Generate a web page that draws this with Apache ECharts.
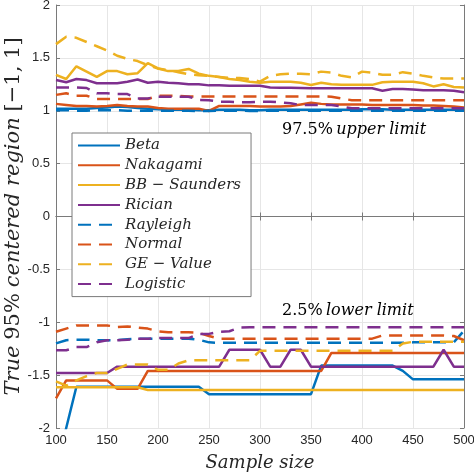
<!DOCTYPE html>
<html>
<head>
<meta charset="utf-8">
<script src="https://cdn.jsdelivr.net/npm/echarts@6/dist/echarts.min.js"></script>
<style>
  html, body { margin: 0; padding: 0; background: #fff; }
  #chart { width: 474px; height: 474px; }
</style>
</head>
<body>
<div id="chart"></div>
<script>
// sample sizes (x)
const sampleSize = [100, 110, 120, 130, 140, 150, 160, 170, 180, 190, 200, 210, 220, 230, 240, 250, 260, 270, 280, 290,
  300, 310, 320, 330, 340, 350, 360, 370, 380, 390, 400, 410, 420, 430, 440, 450, 460, 470, 480, 490, 500];

const yTicks = [-2, -1.5, -1, -0.5, 0, 0.5, 1, 1.5, 2];
const xTicks = [100, 150, 200, 250, 300, 350, 400, 450, 500];

// 97.5% upper limits
const betaUpper = [1.02, 1.02, 1.02, 1.02, 1.025, 1.03, 1.04, 1.035, 1.025, 1.02, 1.015, 1.01, 1.01, 1.01, 1.005, 1.005, 1.01, 1.01, 1.01, 1.005,
  1.005, 1.01, 1.01, 1.01, 1.01, 1.01, 1.01, 1.01, 1.01, 1.01, 1.015, 1.015, 1.015, 1.01, 1.01, 1.01, 1.01, 1.01, 1.01, 1.01, 1.01];
const nakagamiUpper = [1.065, 1.055, 1.045, 1.045, 1.04, 1.045, 1.055, 1.045, 1.04, 1.04, 1.025, 1.02, 1.02, 1.02, 1.02, 0.998, 1.045, 1.045, 1.045, 1.045,
  1.04, 1.04, 1.04, 1.045, 1.06, 1.075, 1.065, 1.06, 1.06, 1.06, 1.06, 1.055, 1.055, 1.055, 1.055, 1.055, 1.05, 1.05, 1.045, 1.04, 1.03];
const bbUpper = [1.34, 1.30, 1.42, 1.37, 1.32, 1.375, 1.375, 1.345, 1.355, 1.45, 1.40, 1.375, 1.375, 1.395, 1.35, 1.33, 1.32, 1.30, 1.29, 1.275,
  1.265, 1.275, 1.275, 1.275, 1.265, 1.243, 1.265, 1.25, 1.245, 1.245, 1.245, 1.245, 1.27, 1.275, 1.275, 1.275, 1.26, 1.23, 1.25, 1.225, 1.22];
const ricianUpper = [1.29, 1.27, 1.30, 1.29, 1.26, 1.26, 1.26, 1.275, 1.295, 1.265, 1.275, 1.265, 1.26, 1.25, 1.25, 1.24, 1.24, 1.237, 1.237, 1.237,
  1.237, 1.22, 1.218, 1.218, 1.215, 1.212, 1.212, 1.212, 1.212, 1.212, 1.212, 1.212, 1.19, 1.205, 1.205, 1.2, 1.195, 1.195, 1.195, 1.19, 1.175];
const rayleighUpper = [1.005, 1.005, 1.0, 1.0, 1.005, 1.005, 1.005, 1.0, 1.0, 1.0, 1.0, 1.0, 1.0, 1.0, 0.998, 0.998, 1.0, 1.0, 1.0, 0.998,
  0.998, 1.0, 1.0, 1.0, 1.0, 1.0, 1.0, 1.0, 1.0, 1.0, 1.0, 1.0, 1.0, 1.0, 1.0, 1.0, 1.0, 1.0, 1.0, 1.0, 1.0];
const normalUpper = [1.15, 1.165, 1.142, 1.142, 1.11, 1.11, 1.11, 1.11, 1.11, 1.11, 1.142, 1.142, 1.14, 1.135, 1.135, 1.135, 1.135, 1.135, 1.135, 1.135,
  1.135, 1.135, 1.135, 1.135, 1.135, 1.135, 1.135, 1.133, 1.115, 1.10, 1.10, 1.10, 1.10, 1.10, 1.10, 1.10, 1.10, 1.10, 1.10, 1.10, 1.10];
const geUpper = [1.63, 1.70, 1.69, 1.65, 1.61, 1.57, 1.52, 1.49, 1.47, 1.43, 1.40, 1.385, 1.365, 1.345, 1.335, 1.33, 1.32, 1.31, 1.31, 1.30,
  1.275, 1.33, 1.345, 1.35, 1.35, 1.345, 1.37, 1.36, 1.33, 1.315, 1.37, 1.36, 1.34, 1.34, 1.365, 1.35, 1.33, 1.315, 1.305, 1.305, 1.305];
const logisticUpper = [1.22, 1.22, 1.22, 1.215, 1.165, 1.165, 1.158, 1.158, 1.117, 1.117, 1.133, 1.133, 1.133, 1.133, 1.102, 1.10, 1.086, 1.086, 1.08, 1.08,
  1.086, 1.086, 1.08, 1.07, 1.054, 1.054, 1.054, 1.054, 1.04, 1.023, 1.023, 1.023, 1.023, 1.023, 1.023, 1.023, 1.023, 1.023, 1.023, 1.023, 1.023];

// 2.5% lower limits
const betaLower = [-2.4, -2.0, -1.61, -1.61, -1.61, -1.61, -1.61, -1.61, -1.61, -1.61, -1.61, -1.61, -1.61, -1.61, -1.61, -1.68, -1.68, -1.68, -1.68, -1.68,
  -1.68, -1.68, -1.68, -1.68, -1.68, -1.68, -1.41, -1.41, -1.41, -1.41, -1.41, -1.41, -1.41, -1.41, -1.46, -1.54, -1.54, -1.54, -1.54, -1.54, -1.54];
const nakagamiLower = [-1.72, -1.55, -1.55, -1.55, -1.55, -1.55, -1.63, -1.63, -1.63, -1.46, -1.46, -1.46, -1.46, -1.46, -1.46, -1.46, -1.46, -1.46, -1.46, -1.46,
  -1.46, -1.46, -1.46, -1.46, -1.46, -1.46, -1.46, -1.29, -1.29, -1.29, -1.29, -1.29, -1.29, -1.29, -1.29, -1.29, -1.29, -1.29, -1.29, -1.29, -1.29];
const bbLower = [-1.615, -1.615, -1.615, -1.615, -1.615, -1.615, -1.615, -1.615, -1.615, -1.64, -1.64, -1.64, -1.64, -1.64, -1.64, -1.64, -1.64, -1.64, -1.64, -1.64,
  -1.64, -1.64, -1.64, -1.64, -1.64, -1.64, -1.64, -1.64, -1.64, -1.64, -1.64, -1.64, -1.64, -1.64, -1.64, -1.64, -1.64, -1.64, -1.64, -1.64, -1.64];
const ricianLower = [-1.48, -1.48, -1.48, -1.48, -1.48, -1.48, -1.42, -1.42, -1.42, -1.42, -1.42, -1.42, -1.42, -1.42, -1.42, -1.42, -1.42, -1.26, -1.26, -1.26,
  -1.26, -1.42, -1.42, -1.26, -1.26, -1.42, -1.42, -1.42, -1.42, -1.42, -1.42, -1.42, -1.42, -1.42, -1.42, -1.42, -1.42, -1.42, -1.26, -1.42, -1.42];
const rayleighLower = [-1.20, -1.17, -1.165, -1.165, -1.17, -1.17, -1.17, -1.16, -1.155, -1.155, -1.155, -1.155, -1.155, -1.155, -1.165, -1.19, -1.195, -1.195, -1.195, -1.195,
  -1.195, -1.195, -1.195, -1.195, -1.195, -1.195, -1.195, -1.195, -1.195, -1.195, -1.195, -1.195, -1.195, -1.195, -1.195, -1.19, -1.19, -1.19, -1.19, -1.19, -1.08];
const normalLower = [-1.09, -1.06, -1.03, -1.03, -1.03, -1.03, -1.045, -1.04, -1.05, -1.06, -1.085, -1.095, -1.095, -1.095, -1.10, -1.13, -1.155, -1.155, -1.155, -1.155,
  -1.155, -1.155, -1.155, -1.155, -1.155, -1.155, -1.155, -1.155, -1.155, -1.155, -1.155, -1.155, -1.125, -1.125, -1.125, -1.125, -1.125, -1.125, -1.125, -1.13, -1.17];
const geLower = [-1.56, -1.60, -1.55, -1.51, -1.48, -1.48, -1.44, -1.40, -1.40, -1.40, -1.45, -1.45, -1.39, -1.36, -1.36, -1.36, -1.36, -1.36, -1.36, -1.36,
  -1.27, -1.27, -1.27, -1.27, -1.27, -1.27, -1.27, -1.27, -1.27, -1.27, -1.27, -1.27, -1.27, -1.27, -1.20, -1.185, -1.185, -1.185, -1.185, -1.185, -1.185];
const logisticLower = [-1.265, -1.265, -1.235, -1.235, -1.19, -1.17, -1.17, -1.165, -1.155, -1.155, -1.15, -1.15, -1.15, -1.15, -1.11, -1.11, -1.09, -1.085, -1.05, -1.048,
  -1.048, -1.048, -1.048, -1.048, -1.048, -1.048, -1.048, -1.048, -1.048, -1.048, -1.048, -1.048, -1.048, -1.048, -1.048, -1.048, -1.048, -1.048, -1.048, -1.048, -1.048];

const DISTS = [
  { name: 'Beta', color: '#0072BD', dashed: false, upper: betaUpper, lower: betaLower },
  { name: 'Nakagami', color: '#D95319', dashed: false, upper: nakagamiUpper, lower: nakagamiLower },
  { name: 'BB \u2212 Saunders', color: '#EDB120', dashed: false, upper: bbUpper, lower: bbLower },
  { name: 'Rician', color: '#7E2F8E', dashed: false, upper: ricianUpper, lower: ricianLower },
  { name: 'Rayleigh', color: '#0072BD', dashed: true, upper: rayleighUpper, lower: rayleighLower },
  { name: 'Normal', color: '#D95319', dashed: true, upper: normalUpper, lower: normalLower },
  { name: 'GE \u2212 Value', color: '#EDB120', dashed: true, upper: geUpper, lower: geLower },
  { name: 'Logistic', color: '#7E2F8E', dashed: true, upper: logisticUpper, lower: logisticLower },
];

const AXIS_COLOR = '#7a7a7a';
const TEXT_COLOR = '#262626';
const SERIF = 'DejaVu Serif';

function lineSeries(d, values) {
  return {
    name: d.name,
    type: 'line',
    data: sampleSize.map((x, i) => [x, values[i]]),
    symbol: 'none',
    showSymbol: false,
    clip: true,
    silent: true,
    lineStyle: { color: d.color, width: 2.5, type: d.dashed ? [13, 8] : 'solid', cap: 'butt' },
    itemStyle: { color: d.color },
  };
}

const series = [];
DISTS.forEach((d) => {
  series.push(lineSeries(d, d.upper));
  series.push(lineSeries(d, d.lower));
});

const mathRich = {
  i: { fontFamily: SERIF, fontStyle: 'italic', fontSize: 16, color: TEXT_COLOR },
  n: { fontFamily: SERIF, fontSize: 16, color: TEXT_COLOR },
};

const chart = echarts.init(document.getElementById('chart'), null, { renderer: 'canvas' });

chart.setOption({
  animation: false,
  backgroundColor: '#fff',
  grid: { left: 56, right: 10, top: 5, bottom: 46, containLabel: false, outerBoundsMode: 'none' },
  legend: {
    data: DISTS.map((d) => d.name),
    orient: 'vertical',
    left: 72,
    top: 133,
    padding: [5, 10, 5, 5],
    itemWidth: 42,
    itemHeight: 14,
    itemGap: 4.8,
    backgroundColor: '#fff',
    borderColor: AXIS_COLOR,
    borderWidth: 1,
    borderRadius: 0,
    selectedMode: false,
    // hide the symbol that line series put in the middle of the legend line
    itemStyle: { color: 'rgba(0,0,0,0)', borderWidth: 0, opacity: 0 },
    textStyle: { fontFamily: SERIF, fontStyle: 'italic', fontSize: 15, color: TEXT_COLOR },
  },
  xAxis: [
    {
      type: 'value',
      min: 100,
      max: 500,
      interval: 50,
      name: 'Sample size',
      nameLocation: 'middle',
      nameGap: 26,
      nameMoveOverlap: false,
      nameTextStyle: { fontFamily: SERIF, fontStyle: 'italic', fontSize: 18, color: TEXT_COLOR },
      axisLine: { show: true, lineStyle: { color: AXIS_COLOR, width: 1 } },
      axisTick: { show: true, inside: true, length: 4, lineStyle: { color: AXIS_COLOR } },
      axisLabel: { color: TEXT_COLOR, fontFamily: 'Liberation Sans', fontSize: 13, margin: 6,
        formatter: (v) => (xTicks.includes(v) ? String(v) : '') },
      splitLine: { show: true, lineStyle: { color: '#e6e6e6', width: 1 } },
    },
    {
      type: 'value',
      position: 'top',
      min: 100,
      max: 500,
      interval: 50,
      axisLine: { show: true, lineStyle: { color: AXIS_COLOR, width: 1 } },
      axisTick: { show: true, inside: true, length: 4, lineStyle: { color: AXIS_COLOR } },
      axisLabel: { show: false },
      splitLine: { show: false },
    },
  ],
  yAxis: [
    {
      type: 'value',
      min: -2,
      max: 2,
      interval: 0.5,
      name: '{i|True} {n|95%} {i|centered region} {n|[\u22121, 1]}',
      nameLocation: 'middle',
      nameRotate: 90,
      nameGap: 32,
      nameMoveOverlap: false,
      nameTextStyle: { fontSize: 21, rich: {
        i: { fontFamily: SERIF, fontStyle: 'italic', fontSize: 21, color: TEXT_COLOR },
        n: { fontFamily: SERIF, fontSize: 21, color: TEXT_COLOR },
      } },
      axisLine: { show: true, lineStyle: { color: AXIS_COLOR, width: 1 } },
      axisTick: { show: true, inside: true, length: 4, lineStyle: { color: AXIS_COLOR } },
      axisLabel: { color: TEXT_COLOR, fontFamily: 'Liberation Sans', fontSize: 13, margin: 6,
        formatter: (v) => (yTicks.includes(v) ? String(v) : '') },
      splitLine: { show: true, lineStyle: { color: '#e6e6e6', width: 1 } },
    },
    {
      type: 'value',
      position: 'right',
      min: -2,
      max: 2,
      interval: 0.5,
      axisLine: { show: true, lineStyle: { color: AXIS_COLOR, width: 1 } },
      axisTick: { show: true, inside: true, length: 4, lineStyle: { color: AXIS_COLOR } },
      axisLabel: { show: false },
      splitLine: { show: false },
    },
  ],
  graphic: [
    {
      type: 'text',
      left: 282,
      top: 122,
      z: 100,
      style: { text: '{n|97.5%} {i|upper limit}', rich: mathRich },
    },
    {
      type: 'text',
      left: 282,
      top: 303,
      z: 100,
      style: { text: '{n|2.5%} {i|lower limit}', rich: mathRich },
    },
  ],
  series,
});
</script>
</body>
</html>
